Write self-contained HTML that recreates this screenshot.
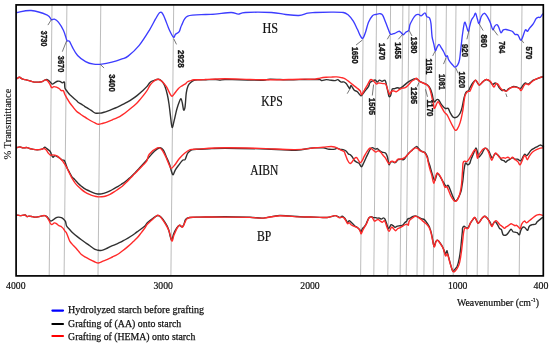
<!DOCTYPE html>
<html><head><meta charset="utf-8"><title>FTIR spectra</title>
<style>html,body{margin:0;padding:0;background:#fff;} svg{display:block;}</style>
</head><body>
<svg width="550" height="347" viewBox="0 0 550 347"><g stroke="#b4b4b4" stroke-width="0.9"><line x1="52.0" y1="5" x2="49.2" y2="275.5"/><line x1="66.9" y1="5" x2="64.1" y2="275.5"/><line x1="100.8" y1="5" x2="98.0" y2="275.5"/><line x1="173.7" y1="5" x2="170.9" y2="275.5"/><line x1="363.4" y1="5" x2="360.6" y2="275.5"/><line x1="376.6" y1="5" x2="373.8" y2="275.5"/><line x1="390.6" y1="5" x2="387.8" y2="275.5"/><line x1="402.9" y1="5" x2="400.1" y2="275.5"/><line x1="409.0" y1="5" x2="406.2" y2="275.5"/><line x1="419.8" y1="5" x2="417.0" y2="275.5"/><line x1="426.7" y1="5" x2="423.9" y2="275.5"/><line x1="436.0" y1="5" x2="433.2" y2="275.5"/><line x1="446.4" y1="5" x2="443.6" y2="275.5"/><line x1="456.0" y1="5" x2="453.2" y2="275.5"/><line x1="469.4" y1="5" x2="466.6" y2="275.5"/><line x1="480.0" y1="5" x2="477.2" y2="275.5"/><line x1="490.8" y1="5" x2="488.0" y2="275.5"/><line x1="522.0" y1="5" x2="519.2" y2="275.5"/></g>
<path d="M17.0,12.5C19.4,12.2 26.1,10.1 31.1,10.5C36.1,10.9 43.9,13.6 47.3,15.1C50.7,16.6 50.1,18.9 51.3,19.6C52.5,20.3 53.2,18.8 54.4,19.2C55.6,19.6 56.9,20.3 58.4,22.2C59.9,24.1 62.0,27.4 63.4,30.3C64.8,33.2 65.8,37.6 66.5,39.4C67.2,41.2 67.0,40.7 67.5,41.0C68.0,41.3 68.7,40.3 69.5,41.4C70.3,42.5 71.2,45.0 72.5,47.4C73.8,49.8 75.4,53.1 77.6,55.5C79.8,57.9 82.9,60.1 85.6,61.6C88.3,63.1 91.0,63.8 93.7,64.2C96.4,64.6 98.8,64.5 101.8,64.2C104.8,63.9 108.5,63.1 111.9,62.2C115.3,61.3 119.3,59.9 122.0,58.9C124.7,57.9 125.2,58.4 128.1,56.1C131.0,53.9 135.7,49.7 139.2,45.4C142.7,41.1 146.6,34.7 149.3,30.3C152.0,25.9 153.7,22.2 155.4,19.2C157.2,16.2 158.5,13.2 159.8,12.5C161.1,11.8 161.8,12.1 163.4,15.1C165.0,18.1 167.8,26.6 169.5,30.3C171.2,34.0 172.5,36.6 173.5,37.3C174.5,38.0 174.6,35.2 175.5,34.3C176.4,33.4 178.2,33.2 179.2,31.7C180.2,30.2 180.2,27.8 181.6,25.2C183.0,22.6 183.7,17.9 187.7,16.1C191.7,14.3 201.2,14.8 205.8,14.5C210.4,14.2 210.8,14.4 215.0,14.1C219.2,13.8 227.2,12.5 231.1,12.5C235.0,12.5 235.8,14.1 238.2,14.1C240.6,14.1 239.8,12.8 245.3,12.5C250.9,12.2 264.8,12.2 271.5,12.5C278.2,12.8 281.1,14.0 285.6,14.5C290.2,15.0 295.1,15.7 298.8,15.5C302.5,15.3 305.1,13.6 307.8,13.1C310.5,12.6 311.1,12.7 315.0,12.5C318.9,12.3 326.4,12.1 331.1,12.1C335.8,12.1 340.4,12.0 343.3,12.5C346.2,13.0 346.6,13.7 348.3,15.1C350.0,16.6 351.8,18.8 353.3,21.2C354.8,23.6 356.2,26.9 357.4,29.3C358.6,31.8 359.5,34.4 360.4,35.9C361.3,37.4 361.9,38.9 362.8,38.3C363.7,37.7 364.6,35.0 365.5,32.3C366.4,29.6 367.3,25.0 368.5,22.2C369.7,19.4 371.3,17.0 372.5,15.7C373.7,14.4 374.2,14.8 375.5,14.5C376.8,14.2 378.8,13.6 380.0,13.7C381.2,13.8 381.7,13.7 382.6,15.1C383.5,16.5 384.6,19.7 385.6,22.2C386.6,24.7 387.9,28.3 388.7,30.3C389.5,32.3 389.7,33.8 390.7,34.3C391.7,34.8 393.3,33.8 394.7,33.3C396.1,32.8 397.8,31.5 398.8,31.3C399.8,31.1 400.1,31.7 400.8,32.3C401.5,32.9 402.4,34.7 403.2,34.7C404.0,34.7 404.9,33.0 405.8,32.3C406.7,31.6 408.1,31.6 408.8,30.3C409.5,29.0 409.3,26.5 410.0,24.6C410.7,22.7 411.9,20.6 412.8,19.0C413.7,17.4 414.7,16.1 415.6,15.3C416.5,14.5 417.5,14.3 418.4,14.4C419.3,14.5 420.1,16.1 421.2,15.9C422.3,15.7 424.1,12.8 425.0,12.9C425.9,13.0 426.0,15.7 426.8,16.6C427.6,17.5 428.9,16.9 429.6,18.1C430.3,19.3 430.6,20.6 431.0,23.7C431.4,26.8 431.6,33.4 432.1,36.8C432.6,40.2 433.4,42.0 433.9,44.3C434.4,46.6 434.8,50.3 435.3,50.8C435.8,51.3 436.5,48.2 437.1,47.1C437.7,46.0 438.4,44.3 439.0,44.3C439.6,44.3 440.1,45.9 440.9,47.1C441.7,48.4 442.9,50.2 443.7,51.8C444.5,53.3 445.3,55.7 445.9,56.4C446.5,57.1 447.0,55.4 447.4,55.9C447.8,56.4 447.9,58.3 448.4,59.3C448.9,60.3 449.5,61.2 450.2,62.1C450.9,63.0 451.9,64.1 452.7,64.9C453.5,65.7 454.1,67.1 454.9,67.1C455.7,67.1 456.9,66.2 457.7,64.9C458.5,63.6 459.1,62.1 459.6,59.3C460.1,56.5 460.5,51.0 460.9,48.0C461.2,45.0 461.4,43.8 461.7,41.0C462.0,38.2 462.4,34.6 462.9,31.5C463.4,28.4 464.0,23.2 464.6,22.3C465.2,21.4 465.7,24.3 466.3,25.8C466.9,27.3 467.7,31.5 468.3,31.5C468.9,31.5 469.3,27.7 469.8,25.8C470.3,23.9 470.8,21.6 471.5,20.0C472.2,18.4 473.1,17.6 473.8,16.5C474.5,15.4 475.0,12.9 475.6,13.3C476.2,13.7 476.7,17.1 477.3,18.8C477.9,20.5 478.3,23.9 479.0,23.5C479.7,23.1 480.4,18.2 481.3,16.5C482.2,14.8 483.3,13.5 484.2,13.3C485.1,13.1 485.7,14.4 486.5,15.4C487.3,16.4 488.1,18.0 488.8,19.4C489.5,20.8 489.9,21.8 490.6,23.5C491.3,25.2 492.2,29.3 492.9,29.8C493.6,30.3 493.9,27.2 494.6,26.3C495.3,25.4 496.2,24.5 496.9,24.6C497.6,24.7 497.9,25.5 498.6,26.9C499.3,28.2 500.1,32.2 500.9,32.7C501.7,33.2 502.4,30.3 503.3,29.8C504.2,29.3 505.1,29.4 506.1,29.5C507.2,29.6 508.5,30.1 509.6,30.4C510.7,30.7 511.6,30.8 512.5,31.5C513.4,32.2 514.1,33.8 515.0,34.4C515.9,35.0 517.0,33.9 518.0,34.9C519.0,35.9 520.0,40.9 521.2,40.1C522.4,39.3 524.2,31.6 525.2,30.2C526.2,28.8 526.7,31.8 527.4,31.4C528.1,31.0 528.6,29.4 529.6,28.1C530.6,26.8 532.1,25.4 533.2,23.8C534.3,22.2 535.3,19.8 536.1,18.7C536.9,17.6 537.5,17.5 538.2,17.3C538.9,17.1 539.7,17.9 540.4,17.3C541.1,16.8 542.2,14.6 542.6,14.0" fill="none" stroke="#3c3cff" stroke-width="1.35" stroke-linejoin="round" stroke-linecap="round"/>
<path d="M17.0,78.5C17.4,78.3 18.6,77.2 19.5,77.3C20.4,77.4 21.2,78.5 22.1,78.9C23.0,79.3 23.9,79.3 25.1,79.6C26.3,79.9 27.8,80.2 29.1,80.6C30.5,81.0 32.0,81.7 33.2,81.9C34.4,82.2 35.2,82.1 36.2,82.1C37.2,82.1 38.2,82.2 39.2,82.1C40.2,82.0 41.2,82.0 42.2,81.6C43.2,81.2 44.4,80.2 45.3,79.9C46.1,79.6 46.5,79.3 47.3,79.6C48.0,79.9 49.0,80.8 49.8,81.6C50.6,82.3 51.4,83.9 52.3,84.1C53.1,84.3 54.0,83.1 54.9,82.6C55.8,82.1 56.6,81.5 57.4,81.3C58.2,81.1 59.1,81.0 59.9,81.3C60.7,81.6 61.6,82.8 62.4,82.9C63.1,83.0 64.0,81.2 64.4,82.1C64.8,83.0 64.5,86.7 65.0,88.3C65.5,89.9 66.7,90.7 67.5,91.8C68.3,92.9 69.0,93.8 69.9,94.8C70.9,95.8 72.1,96.8 73.2,97.8C74.3,98.8 75.7,99.8 76.5,100.5C77.3,101.2 77.3,101.6 78.1,102.2C78.9,102.8 80.3,103.5 81.4,104.2C82.5,104.9 83.5,105.6 84.6,106.3C85.7,107.0 86.8,107.6 87.9,108.3C89.0,109.0 90.0,109.6 91.2,110.4C92.4,111.2 93.8,112.6 95.3,113.1C96.8,113.5 98.8,113.2 100.2,113.1C101.7,113.0 102.8,112.6 104.0,112.3C105.2,112.0 106.1,111.7 107.5,111.2C108.9,110.7 110.8,109.9 112.4,109.2C114.1,108.5 115.8,107.8 117.4,107.1C119.1,106.3 120.7,105.5 122.3,104.7C123.9,103.9 125.6,103.1 127.2,102.2C128.8,101.3 130.5,100.3 132.1,99.2C133.7,98.1 135.3,96.9 137.0,95.6C138.7,94.3 140.4,92.8 142.0,91.3C143.6,89.8 145.5,88.1 146.8,86.6C148.1,85.1 148.9,83.4 150.0,82.4C151.1,81.4 152.1,81.2 153.5,80.7C154.9,80.2 157.3,79.2 158.7,79.3C160.1,79.4 161.1,80.4 162.1,81.5C163.1,82.6 163.8,83.6 164.7,85.8C165.6,88.0 166.6,91.5 167.3,94.5C168.0,97.5 168.5,100.5 169.0,104.0C169.5,107.5 169.9,111.4 170.4,115.3C170.9,119.2 171.5,126.6 172.1,127.4C172.7,128.2 173.4,123.4 174.2,120.4C175.0,117.4 175.9,112.4 176.8,109.2C177.7,106.0 178.7,103.1 179.4,101.4C180.1,99.7 180.6,98.4 181.1,98.8C181.6,99.2 182.1,102.1 182.5,104.0C182.9,105.9 183.3,109.7 183.7,110.1C184.1,110.5 184.7,109.5 185.1,106.6C185.5,103.7 185.8,96.3 186.3,92.8C186.8,89.3 187.4,87.5 188.1,85.8C188.8,84.1 189.7,83.3 190.7,82.4C191.7,81.5 192.8,80.7 194.1,80.3C195.4,79.9 196.6,79.9 198.4,79.8C200.2,79.7 203.8,79.8 205.0,79.8C206.2,79.8 204.0,79.8 205.8,79.7C207.6,79.7 213.5,79.4 215.9,79.5C218.3,79.6 218.5,80.1 220.0,80.1C221.5,80.1 221.7,79.5 225.0,79.5C228.3,79.5 233.7,79.7 240.0,79.8C246.3,79.9 258.0,80.3 263.0,80.2C268.0,80.1 265.5,79.3 270.0,79.2C274.5,79.1 284.2,79.8 290.0,79.8C295.8,79.8 300.8,79.5 305.0,79.5C309.2,79.5 312.5,79.5 315.0,79.5C317.5,79.5 318.8,79.4 320.0,79.6C321.2,79.8 321.0,80.6 322.0,80.6C323.0,80.6 324.8,79.7 326.1,79.6C327.5,79.5 328.6,79.9 330.1,80.1C331.6,80.3 333.8,80.7 335.1,80.6C336.4,80.5 336.9,79.5 337.7,79.6C338.5,79.7 339.1,80.7 339.7,81.1C340.3,81.5 340.5,82.0 341.2,82.1C341.9,82.2 342.9,81.7 343.7,81.9C344.5,82.2 345.4,82.8 346.2,83.6C347.0,84.4 347.7,85.8 348.3,86.7C348.9,87.6 349.4,88.9 349.8,88.7C350.2,88.5 350.4,85.8 350.8,85.6C351.2,85.3 351.7,86.4 352.3,87.2C352.9,88.0 353.5,89.5 354.3,90.2C355.1,91.0 356.5,91.0 357.3,91.7C358.1,92.4 358.7,93.5 359.4,94.2C360.1,94.9 360.6,96.1 361.4,95.7C362.2,95.3 363.2,93.2 364.4,91.7C365.6,90.2 367.5,88.2 368.4,86.7C369.3,85.2 369.2,83.6 370.0,82.6C370.8,81.6 372.1,81.0 373.0,80.6C373.9,80.2 374.8,79.8 375.5,80.1C376.2,80.3 376.4,82.1 377.1,82.1C377.8,82.1 378.8,80.2 379.6,80.1C380.4,80.0 381.3,81.3 382.1,81.3C382.9,81.3 384.0,80.0 384.6,80.1C385.2,80.1 385.2,80.6 385.6,81.6C386.0,82.6 386.3,84.2 386.7,86.1C387.1,88.0 387.8,91.4 388.2,93.2C388.6,95.0 388.8,96.4 389.2,96.7C389.6,97.0 390.2,96.5 390.7,95.2C391.2,94.0 391.6,90.3 392.2,89.2C392.8,88.1 393.4,89.0 394.2,88.7C395.0,88.5 396.2,87.8 397.2,87.7C398.2,87.6 399.3,88.5 400.3,88.2C401.3,87.9 402.1,87.0 403.3,86.1C404.5,85.2 406.0,83.6 407.3,82.6C408.6,81.6 410.0,80.8 411.4,80.1C412.8,79.4 414.2,78.6 415.4,78.6C416.6,78.6 417.6,79.6 418.4,80.1C419.2,80.6 419.1,81.1 420.0,81.6C420.9,82.1 422.4,82.5 423.7,83.1C424.9,83.7 426.4,84.1 427.5,85.0C428.6,85.9 429.5,87.2 430.3,88.7C431.1,90.2 431.6,92.1 432.2,94.3C432.8,96.5 433.2,100.9 434.0,101.8C434.8,102.7 436.0,99.9 436.8,99.6C437.6,99.3 437.9,99.1 438.7,99.9C439.5,100.7 440.4,103.2 441.5,104.6C442.6,106.0 444.2,107.8 445.3,108.4C446.4,109.0 447.3,107.8 448.1,108.4C448.9,109.0 449.1,110.7 449.9,112.1C450.7,113.5 451.9,115.9 452.7,116.8C453.5,117.7 453.8,117.7 454.6,117.7C455.4,117.7 456.5,117.6 457.4,116.8C458.3,116.0 459.4,114.6 460.2,113.0C461.0,111.4 461.5,109.9 462.1,107.4C462.7,104.9 463.4,100.6 464.0,98.1C464.6,95.6 465.0,93.8 465.8,92.5C466.6,91.2 467.9,91.4 468.6,90.6C469.3,89.8 469.3,89.0 470.0,87.7C470.7,86.4 471.8,84.2 472.7,83.0C473.6,81.8 474.7,80.2 475.5,80.2C476.3,80.2 476.8,82.2 477.5,83.0C478.2,83.8 478.6,85.2 479.5,85.0C480.4,84.8 481.9,82.5 483.0,81.6C484.1,80.7 485.3,79.6 486.4,79.5C487.5,79.4 488.8,80.4 489.8,81.2C490.8,82.0 491.6,84.0 492.5,84.3C493.4,84.6 494.4,83.0 495.2,83.0C496.0,83.0 496.6,83.5 497.3,84.3C498.0,85.1 498.5,86.7 499.3,87.7C500.1,88.7 501.3,90.2 502.1,90.5C502.9,90.8 503.4,89.7 504.1,89.8C504.8,89.9 505.5,91.2 506.2,91.1C506.9,91.0 507.4,89.7 508.2,89.1C509.0,88.5 510.0,88.2 510.9,87.7C511.8,87.2 512.7,86.5 513.7,86.4C514.7,86.3 516.0,86.8 517.1,87.1C518.2,87.4 519.5,88.8 520.5,88.4C521.5,88.1 522.4,85.9 523.2,85.0C524.0,84.1 524.5,83.1 525.3,83.0C526.1,82.9 527.1,84.4 528.0,84.3C528.9,84.2 529.8,83.0 530.7,82.3C531.6,81.6 532.4,80.8 533.4,80.2C534.4,79.6 535.6,79.4 536.8,78.9C537.9,78.5 539.2,77.9 540.3,77.5C541.4,77.1 542.8,76.7 543.3,76.5" fill="none" stroke="#303030" stroke-width="1.4" stroke-linejoin="round" stroke-linecap="round"/>
<path d="M17.0,78.5C17.4,78.3 18.6,77.2 19.5,77.3C20.4,77.4 21.2,78.5 22.1,78.9C23.0,79.3 23.9,79.3 25.1,79.6C26.3,79.9 27.8,80.2 29.1,80.6C30.5,81.0 32.0,81.7 33.2,81.9C34.4,82.2 35.2,82.1 36.2,82.1C37.2,82.1 38.2,82.2 39.2,82.1C40.2,82.0 41.2,82.0 42.2,81.6C43.2,81.2 44.4,80.1 45.3,79.9C46.1,79.7 46.5,79.9 47.3,80.6C48.0,81.3 49.0,82.9 49.8,84.1C50.5,85.3 51.1,87.3 51.8,87.7C52.5,88.1 53.0,86.7 53.8,86.6C54.6,86.5 55.5,86.8 56.4,87.2C57.3,87.6 58.6,88.1 59.4,88.7C60.2,89.3 60.7,90.4 61.4,90.7C62.1,91.0 62.8,90.0 63.4,90.7C64.0,91.4 64.3,93.4 65.0,94.8C65.7,96.2 66.7,97.7 67.5,99.1C68.3,100.5 69.0,101.6 69.9,103.0C70.9,104.4 72.1,105.9 73.2,107.3C74.3,108.7 75.3,110.0 76.5,111.2C77.7,112.4 79.2,113.2 80.5,114.2C81.8,115.2 83.4,116.1 84.6,116.9C85.8,117.7 86.8,118.3 87.9,119.0C89.0,119.7 90.0,120.3 91.2,121.0C92.4,121.7 93.8,122.4 95.0,122.9C96.2,123.5 97.2,124.2 98.5,124.3C99.8,124.3 101.5,123.6 103.0,123.2C104.5,122.8 105.9,122.4 107.5,121.8C109.1,121.2 110.8,120.5 112.4,119.8C114.1,119.1 115.8,118.5 117.4,117.7C119.1,116.9 120.7,115.9 122.3,114.8C123.9,113.7 125.6,112.5 127.2,111.2C128.8,110.0 130.5,108.7 132.1,107.3C133.7,105.9 135.5,104.5 137.0,103.0C138.5,101.5 139.6,100.0 141.0,98.4C142.4,96.8 144.0,94.8 145.2,93.2C146.4,91.6 147.2,90.4 148.0,89.0C148.8,87.6 149.2,86.2 150.1,85.0C151.0,83.8 152.2,82.5 153.5,81.5C154.8,80.5 156.4,79.3 157.8,79.3C159.2,79.3 160.7,80.3 162.1,81.5C163.5,82.7 165.1,84.7 166.4,86.7C167.7,88.7 169.0,92.0 169.9,93.6C170.8,95.2 171.2,96.3 172.1,96.2C173.0,96.1 174.0,94.1 175.1,92.8C176.2,91.5 177.3,89.6 178.5,88.4C179.7,87.2 180.8,86.6 182.0,85.8C183.2,85.0 184.6,84.4 185.5,83.8C186.4,83.2 186.3,82.5 187.2,82.0C188.1,81.5 189.5,81.1 190.7,80.7C191.8,80.3 192.5,80.0 194.1,79.8C195.7,79.6 198.4,79.8 200.2,79.8C202.0,79.8 204.1,79.6 205.0,79.6C205.9,79.5 202.5,79.7 205.8,79.5C209.1,79.3 217.6,78.7 225.0,78.7C232.4,78.7 242.5,79.3 250.0,79.5C257.5,79.7 261.7,79.8 270.0,79.8C278.3,79.8 292.5,79.3 300.0,79.2C307.5,79.1 311.7,79.3 315.0,79.1C318.3,78.9 318.1,78.4 320.0,78.1C321.9,77.8 324.2,77.5 326.1,77.3C328.0,77.1 329.4,77.2 331.1,77.1C332.9,77.0 334.9,76.8 336.6,76.9C338.3,77.0 339.9,77.3 341.2,77.6C342.5,77.9 343.5,78.0 344.7,78.6C345.9,79.2 346.9,80.0 348.3,81.1C349.7,82.2 351.8,83.9 353.3,85.1C354.8,86.3 356.1,87.2 357.3,88.2C358.5,89.2 359.7,90.1 360.4,91.2C361.1,92.3 360.9,94.9 361.6,94.7C362.3,94.5 363.3,92.0 364.4,90.2C365.4,88.4 366.9,85.9 367.9,84.1C368.9,82.3 369.7,80.3 370.5,79.6C371.3,78.9 371.8,79.7 372.5,80.1C373.2,80.5 373.8,81.4 374.5,82.1C375.2,82.8 376.0,83.9 376.6,84.1C377.2,84.3 377.5,83.3 378.1,83.1C378.7,82.9 379.3,83.0 380.1,83.1C380.9,83.2 382.2,83.4 383.1,83.6C384.0,83.8 384.9,83.3 385.6,84.1C386.3,84.9 386.7,86.8 387.2,88.2C387.7,89.6 388.3,91.7 388.7,92.7C389.1,93.7 389.3,94.4 389.7,94.2C390.1,94.0 390.6,92.3 391.2,91.7C391.8,91.1 392.4,90.7 393.2,90.7C394.0,90.7 395.2,91.9 396.2,91.7C397.2,91.5 398.3,90.3 399.3,89.7C400.3,89.1 401.3,88.5 402.3,88.2C403.3,87.9 404.3,88.2 405.3,87.7C406.3,87.2 407.3,86.1 408.3,85.1C409.3,84.1 410.4,82.5 411.4,81.6C412.4,80.7 413.6,80.1 414.4,79.6C415.2,79.0 415.7,78.2 416.4,78.3C417.1,78.4 417.8,79.5 418.4,80.1C419.0,80.6 418.5,80.7 420.0,81.6C421.5,82.5 425.8,83.8 427.5,85.3C429.2,86.8 429.4,87.7 430.3,90.6C431.2,93.5 432.4,99.7 433.1,102.7C433.8,105.7 433.8,108.6 434.6,108.4C435.4,108.2 436.8,102.3 437.8,101.8C438.8,101.3 439.5,103.8 440.6,105.5C441.7,107.2 443.2,110.5 444.3,112.1C445.4,113.7 446.2,113.5 447.1,114.9C448.0,116.3 449.0,118.6 449.9,120.5C450.8,122.4 451.8,124.5 452.7,126.1C453.6,127.7 454.4,129.7 455.2,130.2C456.0,130.7 456.6,130.2 457.4,128.9C458.2,127.6 459.3,125.4 460.2,122.4C461.1,119.5 461.9,115.6 462.7,111.2C463.5,106.8 464.1,99.5 464.9,96.2C465.7,92.9 466.8,92.3 467.7,91.5C468.6,90.7 469.3,91.9 470.0,91.1C470.7,90.2 471.1,88.2 472.0,86.4C472.9,84.6 474.5,80.7 475.5,80.2C476.5,79.7 477.5,82.8 478.2,83.6C478.9,84.4 478.7,85.3 479.5,85.0C480.3,84.7 481.9,82.5 483.0,81.6C484.1,80.7 485.1,79.5 486.4,79.5C487.6,79.5 489.2,80.3 490.5,81.6C491.8,82.9 493.0,86.8 493.9,87.1C494.8,87.4 495.2,84.1 495.9,83.6C496.6,83.1 497.2,83.5 498.0,84.3C498.8,85.1 499.8,87.4 500.7,88.4C501.6,89.4 502.5,90.0 503.4,90.5C504.3,91.0 505.4,91.2 506.2,91.1C507.0,91.0 507.4,90.4 508.2,89.8C509.0,89.2 509.8,88.2 510.9,87.7C512.0,87.2 513.6,87.0 515.0,87.1C516.4,87.2 518.1,87.8 519.1,88.4C520.1,89.0 520.4,91.0 521.2,90.5C522.0,90.0 523.1,86.9 523.9,85.7C524.7,84.5 525.1,83.8 525.9,83.6C526.7,83.4 527.8,84.9 528.7,84.7C529.6,84.5 530.5,83.0 531.4,82.3C532.3,81.5 533.0,80.9 534.1,80.2C535.2,79.5 536.7,78.8 538.2,78.2C539.7,77.6 542.4,76.8 543.3,76.5" fill="none" stroke="#ff2a2a" stroke-width="1.4" stroke-linejoin="round" stroke-linecap="round"/>
<path d="M17.0,147.6C17.5,147.5 19.0,146.8 20.0,146.9C21.0,147.0 21.9,147.8 23.1,147.9C24.3,148.0 25.8,147.4 27.1,147.6C28.4,147.8 29.8,148.6 31.1,148.9C32.5,149.2 33.9,149.5 35.2,149.6C36.6,149.7 38.0,149.7 39.2,149.6C40.5,149.5 41.8,149.3 42.7,148.9C43.6,148.5 44.1,147.2 44.8,147.1C45.5,147.0 46.0,148.0 46.8,148.6C47.5,149.2 48.6,149.9 49.3,150.6C50.0,151.3 50.4,151.8 50.8,152.6C51.2,153.4 51.4,154.8 51.8,155.6C52.2,156.4 52.6,157.2 53.1,157.2C53.6,157.2 54.2,155.7 54.9,155.6C55.6,155.5 56.6,156.2 57.4,156.6C58.2,157.0 59.1,157.6 59.9,158.2C60.7,158.8 61.7,159.9 62.4,160.2C63.1,160.5 63.5,159.9 63.9,160.2C64.3,160.4 64.7,160.9 65.0,161.7C65.3,162.4 65.6,163.5 66.0,164.7C66.4,165.9 66.8,167.4 67.5,168.8C68.2,170.2 69.2,171.8 69.9,173.1C70.7,174.4 71.2,175.7 72.0,176.8C72.8,177.9 73.8,178.5 74.8,179.6C75.8,180.7 76.9,182.1 78.0,183.2C79.1,184.3 80.2,185.3 81.4,186.2C82.6,187.1 83.7,188.0 85.0,188.8C86.3,189.6 88.1,190.4 89.5,191.1C90.9,191.8 92.1,192.4 93.5,192.9C94.9,193.4 96.3,193.8 97.7,194.0C99.1,194.2 100.4,194.0 101.8,193.8C103.2,193.6 104.5,193.2 105.9,192.7C107.3,192.2 108.6,191.6 110.0,190.9C111.4,190.2 112.7,189.4 114.1,188.6C115.5,187.8 116.8,187.1 118.2,186.3C119.6,185.5 120.9,184.6 122.3,183.7C123.7,182.8 125.0,181.8 126.4,180.7C127.8,179.6 129.1,178.4 130.5,177.2C131.9,176.0 133.2,174.7 134.6,173.3C135.9,171.9 137.2,170.5 138.6,169.0C139.9,167.5 141.3,166.0 142.7,164.5C144.1,163.0 146.0,160.9 146.8,160.0C147.6,159.1 146.0,160.8 147.3,159.3C148.6,157.8 152.3,153.1 154.4,151.2C156.5,149.3 158.3,148.0 159.8,147.8C161.3,147.6 162.3,148.6 163.4,150.2C164.5,151.8 165.5,154.8 166.5,157.2C167.5,159.5 168.7,161.9 169.5,164.3C170.3,166.7 170.9,169.7 171.5,171.4C172.1,173.2 172.5,175.0 173.1,174.8C173.7,174.6 174.2,172.0 175.1,170.4C176.0,168.8 177.3,167.0 178.6,165.3C179.8,163.6 181.5,161.3 182.6,160.3C183.7,159.3 184.3,160.5 185.2,159.3C186.0,158.1 186.6,154.8 187.7,153.2C188.8,151.6 189.7,150.5 191.7,149.8C193.7,149.1 196.4,149.4 199.8,149.2C203.2,149.0 207.7,148.8 211.9,148.6C216.1,148.4 217.0,148.2 225.0,148.2C233.0,148.2 248.2,148.5 260.0,148.8C271.8,149.1 287.4,150.3 295.7,150.2C304.0,150.1 306.8,148.6 310.0,148.2C313.2,147.8 312.8,147.9 315.0,147.8C317.2,147.7 320.8,147.6 323.1,147.8C325.5,148.0 327.1,149.0 329.1,149.2C331.1,149.4 333.7,149.3 335.0,149.1C336.3,148.9 336.2,148.1 337.0,148.1C337.8,148.1 339.0,149.1 340.0,149.3C341.0,149.6 342.1,149.3 343.1,149.6C344.1,149.9 345.2,150.3 346.1,151.1C347.0,151.8 347.9,153.5 348.6,154.1C349.3,154.7 349.5,154.2 350.1,154.6C350.7,155.0 351.5,155.8 352.2,156.7C352.9,157.6 353.4,159.3 354.2,160.2C354.9,161.1 355.9,161.7 356.7,162.2C357.5,162.7 358.4,162.6 359.2,163.4C360.0,164.2 360.7,166.8 361.4,166.8C362.1,166.9 362.6,165.1 363.3,163.7C364.0,162.3 365.0,160.0 365.8,158.2C366.6,156.4 367.6,154.6 368.3,153.1C369.1,151.6 369.6,150.0 370.3,149.1C371.0,148.2 371.6,147.7 372.3,147.6C373.0,147.5 373.8,148.3 374.4,148.6C375.0,148.8 375.4,149.1 375.9,149.1C376.4,149.1 376.8,148.3 377.4,148.6C378.0,148.8 378.6,150.0 379.4,150.6C380.1,151.2 381.1,151.8 381.9,152.1C382.7,152.4 383.7,152.3 384.4,152.6C385.1,152.8 385.5,152.8 386.0,153.6C386.5,154.4 387.0,155.3 387.5,157.2C388.0,159.0 388.5,163.9 389.0,164.7C389.5,165.5 389.9,162.7 390.5,162.2C391.1,161.7 391.8,161.6 392.6,161.7C393.4,161.8 394.2,163.0 395.1,162.7C396.0,162.4 397.1,160.3 398.1,159.7C399.1,159.1 400.2,159.2 401.1,159.2C402.0,159.2 402.9,160.0 403.7,159.7C404.5,159.4 404.8,158.4 405.7,157.2C406.6,156.0 408.1,153.8 409.2,152.6C410.3,151.4 411.0,151.1 412.2,150.1C413.4,149.1 415.2,146.8 416.3,146.6C417.4,146.3 418.0,147.8 418.8,148.6C419.6,149.3 420.3,150.4 421.3,151.1C422.3,151.8 423.9,151.7 424.9,152.6C425.9,153.5 426.9,155.5 427.4,156.7C427.9,157.9 427.6,158.5 428.0,160.0C428.4,161.5 429.2,163.6 429.9,165.8C430.5,168.0 431.2,170.8 431.9,173.0C432.5,175.2 433.3,177.6 433.8,178.8C434.3,180.0 434.6,181.0 435.1,180.1C435.7,179.2 436.5,174.5 437.1,173.6C437.8,172.7 438.4,174.1 439.0,174.9C439.6,175.7 440.2,176.9 441.0,178.2C441.8,179.5 442.7,181.3 443.6,182.7C444.5,184.1 445.4,186.2 446.2,186.6C446.9,187.0 447.5,184.9 448.1,185.3C448.7,185.7 449.4,187.7 450.0,189.2C450.6,190.7 451.4,192.8 452.0,194.4C452.6,196.0 453.4,197.8 453.9,198.9C454.4,200.0 454.6,200.8 455.2,200.9C455.8,201.0 456.5,200.4 457.2,199.6C457.9,198.8 458.5,197.7 459.1,196.3C459.8,194.9 460.6,192.8 461.1,191.1C461.6,189.4 461.7,187.8 462.0,185.9C462.3,184.0 462.7,182.2 463.0,179.5C463.3,176.8 463.6,172.7 464.0,170.0C464.4,167.3 464.9,164.1 465.5,163.2C466.1,162.3 466.9,164.6 467.6,164.7C468.3,164.8 469.0,164.6 469.6,163.7C470.2,162.8 470.5,160.7 471.1,159.2C471.7,157.7 472.5,156.1 473.1,154.6C473.7,153.1 474.4,151.2 474.9,150.1C475.4,149.0 475.7,147.8 476.1,148.1C476.5,148.3 477.0,150.2 477.4,151.6C477.8,153.0 478.2,156.0 478.7,156.7C479.2,157.4 479.6,156.3 480.2,155.7C480.8,155.1 481.5,154.2 482.2,153.1C482.9,152.0 483.6,149.9 484.2,149.1C484.8,148.3 485.1,148.0 485.7,148.1C486.3,148.2 487.1,148.9 487.7,149.6C488.3,150.3 488.8,151.1 489.3,152.1C489.8,153.1 490.3,154.7 490.8,155.7C491.3,156.7 491.8,158.2 492.3,158.2C492.8,158.2 493.3,156.5 493.8,155.7C494.3,154.9 494.7,153.8 495.3,153.6C495.9,153.4 496.6,154.1 497.3,154.6C498.0,155.1 498.7,155.8 499.4,156.7C500.1,157.5 500.6,159.0 501.4,159.7C502.1,160.4 503.1,160.3 503.9,160.7C504.6,161.1 505.3,162.2 505.9,162.2C506.5,162.2 506.8,161.1 507.4,160.7C508.0,160.3 508.5,160.2 509.4,159.7C510.2,159.2 511.6,157.8 512.5,157.7C513.4,157.6 514.1,158.9 515.0,159.2C515.9,159.4 516.9,158.9 517.7,159.2C518.5,159.4 519.1,160.5 519.7,160.7C520.3,160.9 520.6,160.9 521.2,160.2C521.8,159.4 522.7,157.2 523.3,156.2C523.9,155.2 524.2,154.3 524.8,154.2C525.4,154.1 526.1,155.9 526.8,155.7C527.5,155.5 528.0,154.1 528.8,153.2C529.5,152.3 530.4,150.9 531.3,150.1C532.2,149.2 533.4,148.7 534.4,148.1C535.4,147.5 536.5,147.1 537.4,146.6C538.3,146.1 539.1,145.3 539.9,145.1C540.6,144.9 541.3,145.3 541.9,145.6C542.5,145.8 543.1,146.4 543.4,146.6" fill="none" stroke="#303030" stroke-width="1.4" stroke-linejoin="round" stroke-linecap="round"/>
<path d="M17.0,147.6C17.5,147.5 19.0,146.8 20.0,146.9C21.0,147.0 21.9,147.8 23.1,147.9C24.3,148.0 25.8,147.4 27.1,147.6C28.4,147.8 29.8,148.6 31.1,148.9C32.5,149.2 33.9,149.5 35.2,149.6C36.6,149.7 38.0,149.7 39.2,149.6C40.5,149.5 41.9,149.1 42.7,148.9C43.6,148.7 43.7,148.4 44.3,148.6C44.9,148.8 45.6,149.3 46.3,150.1C47.0,150.8 47.6,152.3 48.3,153.1C49.0,153.9 49.6,154.8 50.3,155.1C51.0,155.4 51.5,154.9 52.3,154.9C53.1,154.9 54.0,154.9 54.9,155.1C55.8,155.3 56.5,155.5 57.4,156.1C58.3,156.7 59.6,157.9 60.4,158.7C61.2,159.5 61.7,159.9 62.4,160.7C63.1,161.5 63.7,162.6 64.4,163.7C65.1,164.8 65.8,165.9 66.5,167.2C67.2,168.5 67.9,170.1 68.5,171.3C69.1,172.5 69.3,173.0 69.9,174.2C70.5,175.3 71.2,176.8 72.0,178.2C72.8,179.6 73.8,181.2 74.8,182.6C75.8,183.9 76.9,185.2 78.0,186.3C79.1,187.4 80.2,188.4 81.4,189.4C82.6,190.4 83.7,191.3 85.0,192.1C86.3,192.9 88.1,193.8 89.5,194.4C90.9,195.0 92.1,195.5 93.5,195.9C94.9,196.3 96.3,196.7 97.7,196.8C99.1,196.9 100.4,196.8 101.8,196.7C103.2,196.6 104.5,196.4 105.9,196.0C107.3,195.6 108.6,195.0 110.0,194.3C111.4,193.6 112.7,192.8 114.1,191.9C115.5,191.1 116.8,190.1 118.2,189.2C119.6,188.2 120.9,187.3 122.3,186.2C123.7,185.0 125.0,183.7 126.4,182.3C127.8,180.9 129.1,179.4 130.5,178.0C131.9,176.6 133.2,175.2 134.6,173.8C135.9,172.4 137.2,171.2 138.6,169.8C139.9,168.4 141.3,166.9 142.7,165.4C144.1,163.9 145.7,162.7 146.8,160.8C147.9,158.9 147.5,156.4 149.3,154.2C151.1,152.0 155.4,148.6 157.4,147.8C159.4,147.0 160.1,147.8 161.4,149.2C162.8,150.6 164.3,153.8 165.5,156.2C166.7,158.5 167.6,161.3 168.5,163.3C169.4,165.3 170.1,168.0 171.1,168.3C172.1,168.6 173.1,167.0 174.5,165.3C175.9,163.6 177.9,160.3 179.6,158.3C181.3,156.3 182.9,154.6 184.6,153.2C186.3,151.8 187.8,150.5 189.7,149.8C191.5,149.1 189.8,149.5 195.7,149.2C201.6,148.9 214.3,147.9 225.0,147.8C235.7,147.7 248.3,148.1 260.0,148.4C271.7,148.7 285.8,149.7 295.0,149.6C304.2,149.5 310.3,148.2 315.0,147.8C319.7,147.4 320.4,147.4 323.1,147.2C325.8,147.0 329.1,146.5 331.1,146.5C333.1,146.5 333.9,146.8 335.0,147.1C336.1,147.4 337.0,148.1 338.0,148.6C339.0,149.1 340.1,149.6 341.1,150.1C342.1,150.6 343.4,150.8 344.1,151.6C344.9,152.4 345.0,153.8 345.6,155.2C346.2,156.6 346.9,158.8 347.6,160.2C348.3,161.6 349.1,163.2 349.9,163.4C350.7,163.7 351.4,162.6 352.2,161.7C353.0,160.8 353.9,158.9 354.7,158.2C355.4,157.5 356.0,157.3 356.7,157.7C357.4,158.1 358.1,159.9 358.7,160.7C359.3,161.5 359.6,162.7 360.2,162.7C360.8,162.7 361.5,161.8 362.2,160.7C362.9,159.6 363.4,157.8 364.3,156.2C365.2,154.6 366.4,152.4 367.3,151.1C368.2,149.8 369.1,148.5 369.8,148.1C370.5,147.7 370.6,148.2 371.3,148.6C372.0,149.0 373.0,150.0 373.8,150.6C374.6,151.2 375.3,152.0 375.9,152.1C376.5,152.2 376.8,151.3 377.4,151.1C378.0,150.9 378.7,150.8 379.4,151.1C380.1,151.4 380.7,152.3 381.4,153.1C382.1,153.9 382.7,154.8 383.4,155.7C384.1,156.5 384.8,157.2 385.5,158.2C386.2,159.2 386.9,160.8 387.5,161.7C388.1,162.6 388.4,163.8 389.0,163.7C389.6,163.6 390.4,161.8 391.1,161.4C391.8,161.0 392.4,161.3 393.1,161.4C393.8,161.5 394.3,162.6 395.1,162.2C395.9,161.8 397.1,159.7 398.1,159.2C399.1,158.7 400.2,159.4 401.1,159.2C402.0,159.0 402.9,158.7 403.7,158.2C404.5,157.7 405.3,157.0 406.2,156.2C407.1,155.3 408.2,154.1 409.2,153.1C410.2,152.1 411.2,151.0 412.2,150.1C413.2,149.2 414.4,148.2 415.3,147.9C416.2,147.7 417.1,148.2 417.8,148.6C418.6,149.0 419.1,150.1 419.8,150.6C420.6,151.1 421.5,151.2 422.3,151.6C423.1,152.0 424.0,152.0 424.9,153.1C425.8,154.2 426.9,156.8 427.4,158.2C427.9,159.6 427.6,159.5 428.0,161.3C428.4,163.1 429.2,166.7 429.9,169.1C430.5,171.5 431.2,173.2 431.9,175.6C432.5,178.0 433.1,183.2 433.8,183.3C434.5,183.4 435.2,177.9 435.8,176.2C436.4,174.5 436.6,173.3 437.1,173.0C437.6,172.7 438.4,173.6 439.0,174.3C439.6,175.1 440.4,176.2 441.0,177.5C441.6,178.8 442.2,180.4 442.9,182.0C443.5,183.6 444.2,186.4 444.9,187.2C445.5,188.0 446.1,185.9 446.8,186.6C447.5,187.2 448.2,189.6 448.8,191.1C449.4,192.6 450.1,194.4 450.7,195.7C451.3,197.0 452.0,198.0 452.6,198.9C453.2,199.8 454.0,200.9 454.6,201.2C455.2,201.5 455.9,201.5 456.5,200.9C457.1,200.3 457.9,199.0 458.5,197.6C459.1,196.2 459.7,194.6 460.2,192.4C460.7,190.2 461.1,188.1 461.5,184.6C461.9,181.1 462.2,174.9 462.5,171.3C462.8,167.7 462.7,164.9 463.0,163.2C463.3,161.5 463.9,161.4 464.5,161.2C465.1,160.9 465.9,161.9 466.6,161.7C467.3,161.4 467.9,160.7 468.6,159.7C469.4,158.7 470.4,157.0 471.1,155.7C471.9,154.4 472.5,153.1 473.1,152.1C473.7,151.1 474.4,149.8 474.9,149.6C475.4,149.4 475.7,149.7 476.1,151.1C476.5,152.5 477.0,157.5 477.4,158.2C477.8,158.9 478.1,156.2 478.7,155.2C479.2,154.2 480.0,153.0 480.7,152.1C481.4,151.2 482.0,150.3 482.7,149.6C483.4,148.9 484.0,148.2 484.7,148.1C485.4,148.0 486.0,148.3 486.7,149.1C487.4,149.8 488.2,151.2 488.8,152.6C489.4,153.9 489.8,155.9 490.3,157.2C490.8,158.5 491.3,160.3 491.8,160.2C492.3,160.1 492.7,157.9 493.3,156.7C493.9,155.5 494.6,153.4 495.3,153.1C496.0,152.8 496.6,153.9 497.3,154.6C498.0,155.3 498.7,156.6 499.4,157.2C500.1,157.8 500.7,158.1 501.4,158.2C502.1,158.3 502.7,157.7 503.4,157.7C504.1,157.7 504.6,158.3 505.4,158.2C506.1,158.1 507.0,157.1 507.9,157.2C508.8,157.3 509.7,158.7 510.5,158.7C511.3,158.7 511.8,157.0 512.5,157.2C513.2,157.4 514.4,159.2 515.0,159.7C515.6,160.2 515.7,159.8 516.2,160.2C516.7,160.6 517.6,161.4 518.2,162.2C518.8,163.0 519.4,164.9 520.0,164.8C520.6,164.7 521.0,163.2 521.7,161.7C522.4,160.2 523.6,156.5 524.3,155.7C525.0,154.9 525.3,156.0 525.8,156.7C526.3,157.4 526.7,159.8 527.3,159.7C527.9,159.6 528.5,157.4 529.3,156.2C530.1,154.9 531.1,153.3 532.3,152.2C533.5,151.1 535.0,150.3 536.4,149.6C537.8,148.9 539.3,148.4 540.4,148.1C541.5,147.8 542.5,147.9 542.9,147.9" fill="none" stroke="#ff2a2a" stroke-width="1.4" stroke-linejoin="round" stroke-linecap="round"/>
<path d="M17.0,215.1C17.5,215.2 19.0,215.6 20.0,215.6C21.0,215.6 22.2,215.4 23.1,215.3C24.0,215.2 24.4,214.7 25.1,214.9C25.8,215.1 26.4,216.4 27.1,216.6C27.8,216.8 28.2,216.1 29.1,216.1C30.0,216.1 31.2,216.4 32.2,216.6C33.2,216.8 34.0,217.3 35.2,217.3C36.4,217.3 38.0,216.8 39.2,216.6C40.4,216.4 41.3,216.1 42.2,215.9C43.1,215.7 44.0,215.5 44.8,215.6C45.6,215.7 46.1,216.0 46.8,216.6C47.5,217.2 48.1,218.3 48.8,219.1C49.5,219.8 50.1,220.9 50.8,221.1C51.5,221.3 52.0,220.6 52.8,220.1C53.6,219.6 54.5,218.6 55.4,218.1C56.3,217.6 57.4,217.2 58.4,217.1C59.4,217.0 60.6,217.3 61.4,217.6C62.2,217.9 62.7,218.4 63.4,219.1C64.1,219.8 65.0,220.4 65.5,221.6C66.0,222.8 65.9,224.6 66.6,226.0C67.3,227.4 68.8,228.6 69.9,229.8C71.0,231.0 72.0,232.1 73.2,233.2C74.4,234.3 75.9,235.5 77.3,236.6C78.7,237.7 80.0,238.7 81.4,239.7C82.8,240.7 84.2,241.7 85.5,242.7C86.8,243.7 88.0,244.4 89.5,245.5C91.0,246.6 93.1,248.4 94.5,249.2C95.9,250.0 96.8,250.0 98.0,250.2C99.2,250.4 100.4,250.7 101.8,250.4C103.2,250.1 104.8,249.3 106.3,248.6C107.8,247.9 109.2,247.0 110.8,246.3C112.4,245.6 114.1,245.0 115.7,244.3C117.3,243.6 119.0,243.0 120.6,242.2C122.2,241.4 123.8,240.4 125.5,239.5C127.2,238.6 129.0,237.5 130.5,236.5C132.0,235.5 133.2,234.7 134.6,233.7C135.9,232.7 137.4,231.6 138.6,230.7C139.8,229.8 140.9,229.0 142.0,228.2C143.1,227.4 144.3,226.7 145.2,225.8C146.1,224.9 146.0,224.1 147.3,222.8C148.7,221.5 151.6,219.3 153.3,218.1C155.1,216.9 156.5,215.6 157.8,215.5C159.2,215.4 160.1,216.2 161.4,217.5C162.7,218.8 164.3,221.2 165.5,223.2C166.7,225.1 167.7,226.8 168.5,229.2C169.3,231.5 169.9,235.5 170.5,237.3C171.1,239.2 171.4,240.8 171.9,240.3C172.4,239.8 172.7,236.3 173.5,234.3C174.3,232.3 175.6,229.7 176.6,228.2C177.6,226.7 178.8,225.4 179.6,225.2C180.4,225.0 180.9,226.8 181.6,226.8C182.3,226.8 182.9,226.4 183.6,225.2C184.3,224.0 184.6,220.8 185.6,219.5C186.6,218.2 187.3,217.9 189.7,217.5C192.1,217.1 193.9,217.2 199.8,217.1C205.7,217.0 216.6,216.7 225.0,216.7C233.4,216.7 243.6,217.0 250.0,217.2C256.4,217.4 258.5,218.4 263.4,218.1C268.3,217.8 273.5,215.7 279.6,215.5C285.7,215.3 294.1,216.5 300.0,216.8C305.9,217.1 310.5,217.0 315.0,217.1C319.5,217.2 323.8,217.8 327.1,217.5C330.4,217.2 333.2,215.8 335.0,215.6C336.8,215.4 337.2,216.3 338.0,216.6C338.8,216.9 339.3,217.6 340.0,217.6C340.7,217.6 341.4,216.3 342.1,216.3C342.8,216.3 343.4,217.0 344.1,217.6C344.8,218.2 345.5,219.2 346.1,220.1C346.7,220.9 347.1,222.6 347.6,222.7C348.1,222.8 348.5,220.7 349.1,220.6C349.7,220.5 350.4,221.6 351.1,222.2C351.8,222.8 352.5,223.5 353.2,224.2C353.9,224.9 354.4,225.6 355.2,226.2C355.9,226.8 356.9,227.1 357.7,227.7C358.4,228.3 359.1,228.9 359.7,229.7C360.2,230.4 360.6,232.3 361.0,232.2C361.4,232.1 361.6,230.1 362.2,229.2C362.8,228.3 363.7,227.4 364.3,226.7C364.9,225.9 365.3,225.6 365.8,224.7C366.3,223.8 366.7,222.3 367.3,221.1C367.9,219.9 368.6,218.3 369.3,217.6C370.0,216.8 370.6,216.6 371.3,216.6C372.0,216.6 372.6,217.4 373.3,217.6C374.0,217.8 374.7,217.5 375.4,217.6C376.1,217.7 376.7,218.0 377.4,218.1C378.1,218.2 378.7,217.9 379.4,218.1C380.1,218.3 380.7,219.1 381.4,219.1C382.1,219.1 382.8,217.9 383.4,217.9C384.0,217.9 384.5,218.2 385.0,219.1C385.5,220.0 385.9,221.6 386.5,223.2C387.1,224.8 387.7,228.4 388.5,228.7C389.3,228.9 390.3,225.2 391.1,224.7C391.9,224.2 392.4,225.3 393.1,225.7C393.8,226.1 394.4,227.1 395.1,227.2C395.8,227.3 396.3,226.4 397.1,226.2C397.9,225.9 399.2,225.9 400.1,225.7C401.0,225.5 401.9,225.7 402.7,225.2C403.5,224.7 404.0,223.4 404.7,222.7C405.4,222.0 406.2,221.7 406.7,221.1C407.2,220.5 407.1,219.6 407.7,219.1C408.3,218.6 409.4,218.5 410.2,218.1C411.0,217.7 411.8,217.0 412.7,216.6C413.6,216.2 414.4,215.8 415.3,215.9C416.2,216.0 417.3,216.7 418.3,217.1C419.3,217.5 420.3,218.2 421.3,218.6C422.3,219.0 423.5,219.0 424.4,219.6C425.2,220.2 425.7,221.3 426.4,222.2C427.1,223.1 427.8,224.2 428.4,225.2C429.0,226.2 429.4,226.8 429.9,228.2C430.4,229.5 431.0,231.6 431.4,233.3C431.8,235.0 432.0,236.2 432.4,238.3C432.8,240.5 433.5,245.6 434.0,246.2C434.5,246.8 435.1,243.0 435.6,242.0C436.1,241.0 436.5,240.2 437.1,240.1C437.7,240.0 438.2,240.7 439.0,241.5C439.8,242.3 440.8,243.9 441.6,245.2C442.4,246.5 443.0,247.8 443.6,249.3C444.2,250.8 444.8,253.8 445.3,254.0C445.8,254.2 446.4,251.0 446.8,250.8C447.2,250.6 447.0,250.8 447.5,252.7C448.0,254.6 449.1,259.4 450.0,262.4C450.9,265.4 451.8,269.7 452.6,270.9C453.4,272.1 453.8,270.4 454.6,269.6C455.4,268.8 456.4,268.0 457.2,266.3C457.9,264.6 458.6,261.8 459.1,259.2C459.6,256.6 460.0,253.9 460.4,250.8C460.8,247.7 461.2,243.7 461.5,240.4C461.8,237.2 462.2,233.3 462.4,231.3C462.6,229.3 462.2,229.0 462.5,228.2C462.8,227.3 463.4,226.3 464.0,226.2C464.6,226.1 465.4,227.4 466.1,227.7C466.8,227.9 467.4,228.4 468.1,227.7C468.8,227.0 469.4,224.9 470.1,223.7C470.8,222.5 471.4,221.6 472.1,220.6C472.9,219.6 473.9,217.8 474.6,217.6C475.3,217.4 475.5,218.7 476.1,219.6C476.7,220.5 477.4,222.8 478.0,223.2C478.6,223.5 479.0,222.5 479.7,221.7C480.4,220.8 481.4,219.0 482.2,218.1C483.0,217.2 483.9,216.4 484.7,216.3C485.4,216.2 486.0,217.0 486.7,217.6C487.4,218.2 488.2,219.2 488.8,220.1C489.4,220.9 489.8,221.8 490.3,222.7C490.8,223.6 491.3,225.5 491.8,225.7C492.3,225.9 492.8,224.4 493.3,223.7C493.8,223.0 494.3,221.9 494.8,221.7C495.3,221.5 495.8,222.1 496.3,222.7C496.8,223.3 497.3,224.3 497.8,225.2C498.3,226.1 498.8,227.4 499.4,228.2C500.0,228.9 500.8,228.7 501.4,229.7C502.0,230.7 502.4,233.4 502.9,234.3C503.4,235.2 503.8,235.2 504.4,235.3C505.0,235.4 505.7,235.2 506.4,234.8C507.1,234.4 507.6,233.6 508.4,232.7C509.2,231.8 510.2,229.4 511.0,229.2C511.8,229.0 512.3,231.2 513.0,231.7C513.7,232.2 514.3,232.0 515.0,232.2C515.7,232.4 516.5,232.3 517.2,232.7C517.9,233.1 518.8,235.1 519.4,234.8C520.0,234.5 520.2,231.9 520.7,230.7C521.2,229.5 521.6,228.3 522.2,227.7C522.8,227.1 523.6,226.9 524.3,227.2C525.0,227.4 525.7,228.7 526.3,229.2C526.9,229.7 527.3,230.7 527.8,230.2C528.3,229.7 528.5,227.1 529.3,226.2C530.0,225.3 531.3,225.0 532.3,224.7C533.3,224.4 534.5,224.7 535.4,224.2C536.2,223.7 536.6,222.4 537.4,221.6C538.1,220.8 539.1,220.3 539.9,219.6C540.7,218.9 542.0,217.9 542.4,217.6" fill="none" stroke="#303030" stroke-width="1.4" stroke-linejoin="round" stroke-linecap="round"/>
<path d="M17.0,215.1C17.5,215.2 19.0,215.6 20.0,215.6C21.0,215.6 22.2,215.4 23.1,215.3C24.0,215.2 24.4,214.7 25.1,214.9C25.8,215.1 26.4,216.4 27.1,216.6C27.8,216.8 28.2,216.1 29.1,216.1C30.0,216.1 31.2,216.4 32.2,216.6C33.2,216.8 34.0,217.3 35.2,217.3C36.4,217.3 38.0,216.8 39.2,216.6C40.4,216.4 41.3,216.1 42.2,215.9C43.1,215.7 44.0,215.4 44.8,215.6C45.6,215.8 46.1,216.3 46.8,217.1C47.5,217.8 48.2,219.1 48.8,220.1C49.4,221.1 49.8,222.3 50.3,223.1C50.8,223.8 51.1,224.6 51.8,224.6C52.5,224.6 53.6,223.1 54.4,222.9C55.2,222.7 55.6,223.1 56.4,223.6C57.1,224.1 58.1,225.2 58.9,225.7C59.7,226.2 60.6,226.2 61.4,226.7C62.1,227.2 62.8,227.9 63.4,228.7C64.0,229.4 64.5,230.4 65.0,231.2C65.5,231.9 66.0,232.1 66.6,233.2C67.1,234.3 67.8,236.2 68.3,237.6C68.8,239.0 69.1,240.1 69.9,241.4C70.7,242.7 72.1,244.1 73.2,245.3C74.3,246.5 75.5,247.6 76.5,248.7C77.5,249.8 78.2,250.8 79.0,251.8C79.8,252.8 80.3,253.6 81.4,254.5C82.5,255.4 84.2,256.4 85.5,257.2C86.8,258.0 88.1,258.7 89.5,259.4C90.9,260.1 92.5,260.9 94.0,261.5C95.5,262.1 97.0,263.1 98.5,263.0C100.0,262.9 101.5,261.8 103.0,261.2C104.5,260.6 105.9,260.1 107.5,259.4C109.1,258.7 110.8,257.8 112.4,257.0C114.1,256.2 115.8,255.5 117.4,254.5C119.1,253.5 120.7,252.2 122.3,251.0C123.9,249.8 125.6,248.5 127.2,247.1C128.8,245.7 130.5,244.2 132.1,242.7C133.7,241.2 135.5,239.7 137.0,238.1C138.5,236.5 139.6,234.9 141.0,233.1C142.4,231.3 144.1,229.0 145.2,227.5C146.2,226.0 146.0,225.7 147.3,224.2C148.7,222.7 151.6,220.2 153.3,218.7C155.1,217.2 156.5,215.2 157.8,215.1C159.2,215.0 160.1,216.6 161.4,218.1C162.7,219.6 164.2,222.0 165.5,224.2C166.8,226.4 168.0,228.4 169.1,231.2C170.2,234.0 171.1,240.2 171.9,240.9C172.7,241.6 173.1,237.2 173.9,235.3C174.7,233.4 175.7,230.9 176.6,229.2C177.5,227.5 178.6,225.5 179.6,225.2C180.6,224.9 181.8,227.5 182.6,227.2C183.4,226.9 183.8,224.7 184.6,223.2C185.4,221.7 185.8,219.1 187.7,218.1C189.5,217.1 189.5,217.3 195.7,217.1C201.9,216.9 215.9,217.0 225.0,217.1C234.1,217.2 243.6,217.2 250.0,217.4C256.4,217.6 258.5,218.4 263.4,218.1C268.3,217.8 273.5,215.9 279.6,215.7C285.7,215.5 294.1,216.7 300.0,216.9C305.9,217.1 310.5,217.0 315.0,217.1C319.5,217.2 323.8,217.8 327.1,217.5C330.4,217.2 333.0,215.6 335.0,215.6C337.0,215.6 337.8,217.3 339.0,217.6C340.2,217.8 341.2,217.0 342.1,217.1C343.0,217.2 343.4,217.4 344.1,218.1C344.8,218.8 345.5,220.2 346.1,221.1C346.7,222.0 347.1,223.4 347.6,223.7C348.1,224.0 348.5,222.5 349.1,222.7C349.7,222.9 350.3,224.1 351.1,224.7C351.9,225.3 352.9,225.8 353.7,226.2C354.5,226.6 355.4,226.8 356.2,227.2C357.0,227.6 358.0,228.0 358.7,228.7C359.4,229.4 359.8,230.3 360.2,231.2C360.6,232.0 360.8,234.0 361.2,233.8C361.6,233.6 362.2,231.4 362.8,230.2C363.4,229.0 364.1,227.9 364.8,226.7C365.5,225.5 366.1,224.6 366.8,223.2C367.5,221.8 368.2,219.1 368.8,218.1C369.4,217.1 369.7,217.0 370.3,216.9C370.9,216.8 371.6,216.9 372.3,217.6C373.0,218.3 373.7,220.7 374.4,221.1C375.1,221.5 375.7,220.3 376.4,220.1C377.1,219.8 377.7,219.4 378.4,219.6C379.1,219.8 379.7,220.7 380.4,221.1C381.1,221.5 381.7,222.3 382.4,222.2C383.1,222.1 383.8,220.3 384.4,220.6C385.0,220.9 385.6,223.1 386.0,224.2C386.4,225.3 386.5,226.0 387.0,227.2C387.5,228.4 388.2,231.4 389.0,231.4C389.8,231.4 390.8,227.6 391.6,227.2C392.4,226.8 392.9,228.1 393.6,228.7C394.3,229.3 394.9,230.7 395.6,230.7C396.3,230.7 396.9,229.2 397.6,228.7C398.4,228.2 399.2,228.1 400.1,227.7C401.0,227.3 401.9,226.7 402.7,226.2C403.5,225.7 404.4,225.0 405.2,224.7C405.9,224.4 406.7,224.1 407.2,224.2C407.7,224.3 408.1,225.7 408.4,225.2C408.7,224.7 408.6,222.2 409.2,221.1C409.8,220.0 410.8,219.3 411.7,218.6C412.6,217.8 413.5,217.0 414.3,216.6C415.1,216.2 415.5,216.1 416.3,216.3C417.1,216.6 418.3,217.4 419.3,218.1C420.3,218.8 421.3,219.8 422.3,220.6C423.3,221.4 424.5,222.3 425.4,223.2C426.3,224.0 427.1,224.7 427.9,225.7C428.6,226.7 429.3,227.8 429.9,229.2C430.5,230.6 431.0,232.6 431.4,234.3C431.8,236.0 431.9,237.2 432.4,239.3C432.9,241.4 433.6,246.4 434.2,246.9C434.8,247.4 435.3,243.4 435.8,242.3C436.3,241.2 436.6,240.2 437.1,240.1C437.6,240.0 438.2,240.8 439.0,241.7C439.8,242.6 440.8,244.3 441.6,245.6C442.4,246.9 443.0,247.8 443.6,249.5C444.2,251.2 444.9,255.2 445.5,255.9C446.1,256.6 446.7,253.8 447.2,254.0C447.7,254.2 448.0,255.7 448.5,257.2C449.0,258.7 449.4,261.2 450.0,263.1C450.6,265.1 451.4,267.4 452.0,268.9C452.6,270.3 452.8,271.5 453.3,271.8C453.8,272.1 454.6,271.5 455.2,270.9C455.8,270.3 456.5,269.4 457.2,268.3C457.9,267.2 458.6,266.0 459.1,264.4C459.6,262.8 460.0,261.0 460.4,258.5C460.8,256.0 461.3,252.9 461.7,249.5C462.1,246.1 462.7,240.7 463.0,237.8C463.3,234.9 463.4,233.6 463.7,231.9C464.0,230.2 464.4,228.2 465.0,227.7C465.6,227.2 466.5,228.7 467.1,228.7C467.7,228.7 468.0,228.7 468.6,227.7C469.2,226.7 469.9,224.0 470.6,222.7C471.3,221.3 471.9,220.5 472.6,219.6C473.3,218.7 474.0,217.3 474.6,217.3C475.2,217.3 475.5,218.6 476.1,219.6C476.7,220.6 477.3,223.2 478.0,223.4C478.7,223.7 479.5,222.0 480.2,221.1C480.9,220.2 481.4,218.9 482.2,218.1C482.9,217.3 483.9,216.3 484.7,216.3C485.5,216.3 486.4,217.2 487.2,218.1C488.0,219.0 488.7,220.6 489.3,221.7C489.9,222.8 490.3,223.9 490.8,224.7C491.3,225.5 491.6,226.7 492.1,226.4C492.6,226.1 493.2,223.7 493.8,222.7C494.4,221.7 495.1,220.7 495.8,220.6C496.5,220.5 497.1,221.5 497.8,222.2C498.5,222.9 499.2,224.0 499.9,224.7C500.6,225.4 501.1,225.6 501.9,226.2C502.6,226.8 503.6,228.1 504.4,228.2C505.1,228.3 505.7,227.1 506.4,226.7C507.1,226.3 507.6,226.2 508.4,225.7C509.2,225.2 510.2,223.9 511.0,223.7C511.8,223.5 512.3,224.4 513.0,224.7C513.7,225.0 514.5,225.6 515.0,225.7C515.5,225.8 515.7,225.0 516.2,225.2C516.7,225.4 517.5,226.1 518.2,226.7C518.9,227.3 519.6,229.1 520.2,228.7C520.8,228.3 521.0,225.5 521.7,224.2C522.4,222.9 523.5,221.3 524.3,221.1C525.1,220.8 525.6,222.6 526.3,222.7C527.0,222.8 527.5,222.2 528.3,221.6C529.1,221.0 530.3,219.9 531.3,219.1C532.3,218.3 533.4,217.3 534.4,216.6C535.4,215.9 536.4,215.2 537.4,214.9C538.4,214.6 539.6,214.5 540.4,214.6C541.2,214.7 542.1,215.2 542.4,215.3" fill="none" stroke="#ff2a2a" stroke-width="1.4" stroke-linejoin="round" stroke-linecap="round"/>
<rect x="16.1" y="4.9" width="527.2" height="271" fill="none" stroke="#000" stroke-width="1.7"/>
<g stroke="#555" stroke-width="0.8"><line x1="47.9" y1="25.1" x2="51.5" y2="19.4"/><line x1="62.3" y1="51.7" x2="66.6" y2="40.9"/><line x1="100.2" y1="64.4" x2="104.1" y2="68"/><line x1="173.7" y1="38.7" x2="176.5" y2="44.4"/><line x1="356" y1="45.1" x2="362.5" y2="39.9"/><line x1="387.3" y1="39.3" x2="389.9" y2="34.7"/><line x1="398.3" y1="39.3" x2="402.9" y2="34.1"/><line x1="412" y1="36" x2="409" y2="30.2"/><line x1="432.7" y1="55.9" x2="435.1" y2="51.1"/><line x1="443.5" y1="64.1" x2="446.2" y2="57.5"/><line x1="455.7" y1="67.8" x2="458.1" y2="73.3"/><line x1="466.9" y1="39.3" x2="469" y2="30.6"/><line x1="483.2" y1="30.6" x2="479.1" y2="23.9"/><line x1="497.8" y1="35.4" x2="493" y2="29"/><line x1="521.2" y1="39.5" x2="523.8" y2="43.1"/><line x1="372.3" y1="95.5" x2="373.6" y2="84.5"/><line x1="417.3" y1="86.6" x2="418.9" y2="82.5"/><line x1="427.5" y1="96.8" x2="425.5" y2="89.3"/><line x1="347.2" y1="93.7" x2="349.8" y2="89.2"/><line x1="505.8" y1="93.5" x2="507" y2="97"/></g>
<g font-family="Liberation Sans, Arial, sans-serif" font-weight="bold" font-size="8.6" fill="#151515" stroke="#151515" stroke-width="0.35"><text transform="translate(41.05,30.7) rotate(90)" textLength="15.8" lengthAdjust="spacingAndGlyphs">3730</text><text transform="translate(57.65,55.8) rotate(90)" textLength="16.5" lengthAdjust="spacingAndGlyphs">3670</text><text transform="translate(109.35,74.3) rotate(90)" textLength="17.5" lengthAdjust="spacingAndGlyphs">3400</text><text transform="translate(178.35,50.0) rotate(90)" textLength="17.7" lengthAdjust="spacingAndGlyphs">2928</text><text transform="translate(352.45,46.9) rotate(90)" textLength="16.9" lengthAdjust="spacingAndGlyphs">1650</text><text transform="translate(379.25,43.0) rotate(90)" textLength="17.1" lengthAdjust="spacingAndGlyphs">1470</text><text transform="translate(394.85,42.3) rotate(90)" textLength="16.5" lengthAdjust="spacingAndGlyphs">1455</text><text transform="translate(410.65,36.7) rotate(90)" textLength="16.9" lengthAdjust="spacingAndGlyphs">1380</text><text transform="translate(426.35,58.5) rotate(90)" textLength="15.9" lengthAdjust="spacingAndGlyphs">1151</text><text transform="translate(438.65,73.9) rotate(90)" textLength="15.9" lengthAdjust="spacingAndGlyphs">1081</text><text transform="translate(459.25,71.5) rotate(90)" textLength="16.7" lengthAdjust="spacingAndGlyphs">1020</text><text transform="translate(462.45,43.9) rotate(90)" textLength="13.1" lengthAdjust="spacingAndGlyphs">920</text><text transform="translate(480.75,34.4) rotate(90)" textLength="13.1" lengthAdjust="spacingAndGlyphs">860</text><text transform="translate(498.95,41.2) rotate(90)" textLength="12.2" lengthAdjust="spacingAndGlyphs">764</text><text transform="translate(525.85,46.4) rotate(90)" textLength="13.0" lengthAdjust="spacingAndGlyphs">570</text><text transform="translate(369.25,98.0) rotate(90)" textLength="17.0" lengthAdjust="spacingAndGlyphs">1505</text><text transform="translate(410.55,87.1) rotate(90)" textLength="17.0" lengthAdjust="spacingAndGlyphs">1295</text><text transform="translate(426.55,99.4) rotate(90)" textLength="17.0" lengthAdjust="spacingAndGlyphs">1170</text></g>
<g font-family="Liberation Serif, serif" font-size="13.6" fill="#111" stroke="#111" stroke-width="0.2"><text x="262.4" y="32.9" textLength="15.6" lengthAdjust="spacingAndGlyphs">HS</text><text x="261.3" y="105.9" textLength="21.4" lengthAdjust="spacingAndGlyphs">KPS</text><text x="250.2" y="174.5" textLength="28.2" lengthAdjust="spacingAndGlyphs">AIBN</text><text x="256.9" y="240.5" textLength="14.3" lengthAdjust="spacingAndGlyphs">BP</text></g>
<g font-family="Liberation Serif, serif" font-size="10.8" fill="#111" stroke="#111" stroke-width="0.22"><text x="15.8" y="288.8" text-anchor="middle" textLength="19.4" lengthAdjust="spacingAndGlyphs">4000</text><text x="163.2" y="288.8" text-anchor="middle" textLength="19.4" lengthAdjust="spacingAndGlyphs">3000</text><text x="310.0" y="288.8" text-anchor="middle" textLength="19.4" lengthAdjust="spacingAndGlyphs">2000</text><text x="457.7" y="288.8" text-anchor="middle" textLength="19.4" lengthAdjust="spacingAndGlyphs">1000</text><text x="541.0" y="288.8" text-anchor="middle" textLength="14.8" lengthAdjust="spacingAndGlyphs">400</text></g>
<text x="457" y="305.5" font-family="Liberation Serif, serif" font-size="10.2" fill="#111" stroke="#111" stroke-width="0.22" textLength="82" lengthAdjust="spacingAndGlyphs">Weavenumber (cm<tspan font-size="6" dy="-3.5">-1</tspan><tspan dy="3.5">)</tspan></text>
<text transform="translate(10.6,159.6) rotate(-90)" font-family="Liberation Serif, serif" font-size="10" fill="#111" stroke="#111" stroke-width="0.12" textLength="71" lengthAdjust="spacingAndGlyphs">% Transmittance</text>
<line x1="52.4" y1="310.6" x2="63.0" y2="310.6" stroke="#0000ff" stroke-width="2.2" stroke-linecap="round"/><text x="68.1" y="313" textLength="136.0" lengthAdjust="spacingAndGlyphs" font-family="Liberation Serif, serif" font-size="10.7" fill="#111" stroke="#111" stroke-width="0.25">Hydrolyzed starch before grafting</text><line x1="52.4" y1="324" x2="63.0" y2="324" stroke="#000" stroke-width="2.2" stroke-linecap="round"/><text x="68.1" y="326.6" textLength="113.2" lengthAdjust="spacingAndGlyphs" font-family="Liberation Serif, serif" font-size="10.7" fill="#111" stroke="#111" stroke-width="0.25">Grafting of (AA) onto starch</text><line x1="52.4" y1="336.0" x2="63.0" y2="336.0" stroke="#ff0000" stroke-width="2.2" stroke-linecap="round"/><text x="68.1" y="339.6" textLength="127.2" lengthAdjust="spacingAndGlyphs" font-family="Liberation Serif, serif" font-size="10.7" fill="#111" stroke="#111" stroke-width="0.25">Grafting of (HEMA) onto starch</text></svg>
</body></html>
